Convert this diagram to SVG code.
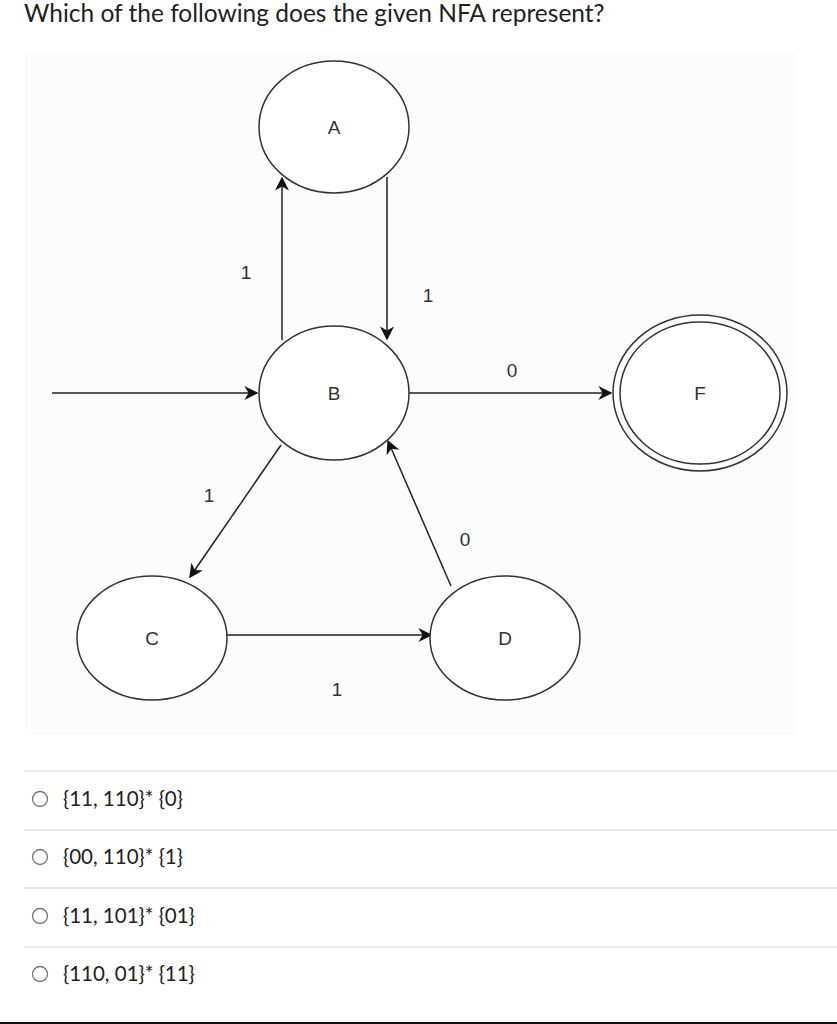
<svg xmlns="http://www.w3.org/2000/svg" width="837" height="1024" viewBox="0 0 837 1024">
<style>
.st{fill:#fff;stroke:#333;stroke-width:1.5}
.e{stroke:#222;stroke-width:1.5;fill:none}
.lb{font-family:"Liberation Sans",Arial,sans-serif;font-size:19px;fill:#333;text-anchor:middle}
.q{font-family:Lato,"Liberation Sans",sans-serif;font-size:24.5px;fill:#222}
.o{font-family:Lato,"Liberation Sans",sans-serif;font-size:20.5px;fill:#222}
.sep{stroke:#e2e2e2;stroke-width:1.5}
.rd{fill:#fff;stroke:#777;stroke-width:1.3}
</style>
<defs>
<marker id="ar" viewBox="0 0 10 10" refX="9" refY="5" markerWidth="14" markerHeight="14" markerUnits="userSpaceOnUse" orient="auto">
<path d="M0,0 L10,5 L0,10 L3,5 Z" fill="#111"/>
</marker>
</defs>
<rect width="837" height="1024" fill="#fff"/>
<text class="q" x="24" y="22">Which of the following does the given NFA represent?</text>
<rect x="25" y="52" width="770" height="683" fill="#fcfcfc"/>
<g id="connectors">
<line class="e" x1="282" y1="340" x2="282" y2="178" marker-end="url(#ar)"/>
<line class="e" x1="387" y1="177" x2="387" y2="339" marker-end="url(#ar)"/>
<line class="e" x1="52" y1="393" x2="257" y2="393" marker-end="url(#ar)"/>
<line class="e" x1="409" y1="393" x2="611" y2="393" marker-end="url(#ar)"/>
<line class="e" x1="281" y1="445" x2="190" y2="577" marker-end="url(#ar)"/>
<line class="e" x1="451" y1="586" x2="388" y2="441" marker-end="url(#ar)"/>
<line class="e" x1="227" y1="635" x2="431" y2="635" marker-end="url(#ar)"/>
<text class="lb" x="246" y="279">1</text>
<text class="lb" x="428" y="302">1</text>
<text class="lb" x="512" y="377">0</text>
<text class="lb" x="209" y="502">1</text>
<text class="lb" x="465" y="546">0</text>
<text class="lb" x="337" y="696">1</text>
</g>
<g id="A"><ellipse class="st" cx="334" cy="127" rx="75" ry="66"/><text class="lb" x="334" y="134">A</text></g>
<g id="B"><ellipse class="st" cx="334" cy="393" rx="75" ry="67"/><text class="lb" x="334" y="400">B</text></g>
<g id="C"><ellipse class="st" cx="152" cy="638" rx="75" ry="62"/><text class="lb" x="152" y="645">C</text></g>
<g id="D"><ellipse class="st" cx="505" cy="638" rx="75" ry="62"/><text class="lb" x="505" y="645">D</text></g>
<g id="F"><ellipse class="st" cx="700" cy="393" rx="87" ry="78"/><ellipse class="st" cx="700" cy="393" rx="80" ry="71"/><text class="lb" x="700" y="400">F</text></g>
<line class="sep" x1="24" y1="771" x2="837" y2="771"/>
<line class="sep" x1="24" y1="830" x2="837" y2="830"/>
<line class="sep" x1="24" y1="888" x2="837" y2="888"/>
<line class="sep" x1="24" y1="947" x2="837" y2="947"/>
<line x1="0" y1="1023" x2="837" y2="1023" stroke="#111" stroke-width="2"/>
<circle class="rd" cx="40" cy="799" r="7.5"/><text class="o" x="63" y="806">{11, 110}* {0}</text>
<circle class="rd" cx="40" cy="857" r="7.5"/><text class="o" x="63" y="864">{00, 110}* {1}</text>
<circle class="rd" cx="40" cy="916" r="7.5"/><text class="o" x="63" y="923">{11, 101}* {01}</text>
<circle class="rd" cx="40" cy="974" r="7.5"/><text class="o" x="63" y="981">{110, 01}* {11}</text>
</svg>
